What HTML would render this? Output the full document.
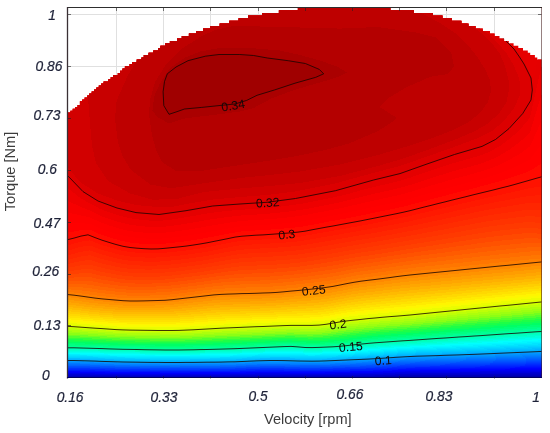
<!DOCTYPE html>
<html><head><meta charset="utf-8"><title>Efficiency map</title>
<style>html,body{margin:0;padding:0;background:#fff}body{width:550px;height:433px;overflow:hidden}svg{display:block}</style>
</head><body>
<svg width="550" height="433" viewBox="0 0 550 433">
<defs><clipPath id="dc"><path d="M60.9,400L60.9,118.1L63.3,118.1L63.3,116.2L65.6,116.2L65.6,114.4L68,114.4L68,112.5L70.4,112.5L70.4,110.7L72.7,110.7L72.7,108.8L75.1,108.8L75.1,107L77.5,107L77.5,105.1L79.9,105.1L79.9,101.3L82.2,101.3L82.2,99.4L84.6,99.4L84.6,97.4L87,97.4L87,95.5L89.3,95.5L89.3,93.5L91.7,93.5L91.7,91.5L94.1,91.5L94.1,89.5L96.4,89.5L96.4,87.5L98.8,87.5L98.8,85.5L101.2,85.5L101.2,83.4L103.6,83.4L103.6,81.4L105.9,81.4L105.9,81.4L108.3,81.4L108.3,79.3L110.7,79.3L110.7,77.2L113,77.2L113,75L115.4,75L115.4,75L117.8,75L117.8,72.9L120.1,72.9L120.1,70.7L122.5,70.7L122.5,68.5L124.9,68.5L124.9,66.3L127.3,66.3L127.3,66.3L129.6,66.3L129.6,64.1L132,64.1L132,61.9L134.4,61.9L134.4,61.9L136.7,61.9L136.7,59.6L139.1,59.6L139.1,59.6L141.5,59.6L141.5,57.4L143.8,57.4L143.8,55.1L146.2,55.1L146.2,55.1L148.6,55.1L148.6,52.7L151,52.7L151,52.7L153.3,52.7L153.3,50.4L155.7,50.4L155.7,50.4L158.1,50.4L158.1,48.1L160.4,48.1L160.4,45.7L162.8,45.7L162.8,45.7L165.2,45.7L165.2,43.3L167.5,43.3L167.5,43.3L169.9,43.3L169.9,40.9L172.3,40.9L172.3,40.9L174.7,40.9L174.7,40.9L177,40.9L177,38.4L179.4,38.4L179.4,38.4L181.8,38.4L181.8,36L184.1,36L184.1,36L186.5,36L186.5,36L188.9,36L188.9,33.5L191.2,33.5L191.2,33.5L193.6,33.5L193.6,33.5L196,33.5L196,31L198.4,31L198.4,31L200.7,31L200.7,31L203.1,31L203.1,28.5L205.5,28.5L205.5,28.5L207.8,28.5L207.8,28.5L210.2,28.5L210.2,25.9L212.6,25.9L212.6,25.9L214.9,25.9L214.9,25.9L217.3,25.9L217.3,25.9L219.7,25.9L219.7,23.4L222.1,23.4L222.1,23.4L224.4,23.4L224.4,23.4L226.8,23.4L226.8,23.4L229.2,23.4L229.2,20.8L231.5,20.8L231.5,20.8L233.9,20.8L233.9,20.8L236.3,20.8L236.3,20.8L238.6,20.8L238.6,18.2L241,18.2L241,18.2L243.4,18.2L243.4,18.2L245.8,18.2L245.8,18.2L248.1,18.2L248.1,15.5L250.5,15.5L250.5,15.5L252.9,15.5L252.9,15.5L255.2,15.5L255.2,15.5L257.6,15.5L257.6,15.5L260,15.5L260,15.5L262.3,15.5L262.3,12.9L264.7,12.9L264.7,12.9L267.1,12.9L267.1,12.9L269.5,12.9L269.5,12.9L271.8,12.9L271.8,12.9L274.2,12.9L274.2,12.9L276.6,12.9L276.6,12.9L278.9,12.9L278.9,10.2L281.3,10.2L281.3,10.2L283.7,10.2L283.7,10.2L286,10.2L286,10.2L288.4,10.2L288.4,10.2L290.8,10.2L290.8,10.2L293.2,10.2L293.2,10.2L295.5,10.2L295.5,10.2L297.9,10.2L297.9,7.5L300.3,7.5L300.3,7.5L302.6,7.5L302.6,7.5L305,7.5L305,7.5L307.4,7.5L307.4,7.5L309.7,7.5L309.7,7.5L312.1,7.5L312.1,7.5L314.5,7.5L314.5,7.5L316.9,7.5L316.9,7.5L319.2,7.5L319.2,7.5L321.6,7.5L321.6,7.5L324,7.5L324,7.5L326.3,7.5L326.3,7.5L328.7,7.5L328.7,4.9L331.1,4.9L331.1,4.9L333.4,4.9L333.4,4.9L335.8,4.9L335.8,4.9L338.2,4.9L338.2,4.9L340.6,4.9L340.6,4.9L342.9,4.9L342.9,4.9L345.3,4.9L345.3,4.9L347.7,4.9L347.7,4.9L350,4.9L350,4.9L352.4,4.9L352.4,4.9L354.8,4.9L354.8,4.9L357.1,4.9L357.1,4.9L359.5,4.9L359.5,4.9L361.9,4.9L361.9,4.9L364.3,4.9L364.3,4.9L366.6,4.9L366.6,4.9L369,4.9L369,4.9L371.4,4.9L371.4,4.9L373.7,4.9L373.7,7.5L376.1,7.5L376.1,7.5L378.5,7.5L378.5,7.5L380.8,7.5L380.8,7.5L383.2,7.5L383.2,7.5L385.6,7.5L385.6,7.5L388,7.5L388,7.5L390.3,7.5L390.3,10.2L392.7,10.2L392.7,10.2L395.1,10.2L395.1,10.2L397.4,10.2L397.4,10.2L399.8,10.2L399.8,10.2L402.2,10.2L402.2,10.2L404.5,10.2L404.5,10.2L406.9,10.2L406.9,10.2L409.3,10.2L409.3,10.2L411.7,10.2L411.7,10.2L414,10.2L414,12.9L416.4,12.9L416.4,12.9L418.8,12.9L418.8,12.9L421.1,12.9L421.1,12.9L423.5,12.9L423.5,12.9L425.9,12.9L425.9,12.9L428.2,12.9L428.2,12.9L430.6,12.9L430.6,12.9L433,12.9L433,15.5L435.4,15.5L435.4,15.5L437.7,15.5L437.7,15.5L440.1,15.5L440.1,15.5L442.5,15.5L442.5,18.2L444.8,18.2L444.8,18.2L447.2,18.2L447.2,18.2L449.6,18.2L449.6,18.2L451.9,18.2L451.9,20.8L454.3,20.8L454.3,20.8L456.7,20.8L456.7,20.8L459.1,20.8L459.1,20.8L461.4,20.8L461.4,23.4L463.8,23.4L463.8,23.4L466.2,23.4L466.2,23.4L468.5,23.4L468.5,25.9L470.9,25.9L470.9,25.9L473.3,25.9L473.3,25.9L475.6,25.9L475.6,28.5L478,28.5L478,28.5L480.4,28.5L480.4,28.5L482.8,28.5L482.8,31L485.1,31L485.1,31L487.5,31L487.5,31L489.9,31L489.9,33.5L492.2,33.5L492.2,33.5L494.6,33.5L494.6,36L497,36L497,36L499.3,36L499.3,38.4L501.7,38.4L501.7,38.4L504.1,38.4L504.1,40.9L506.5,40.9L506.5,40.9L508.8,40.9L508.8,43.3L511.2,43.3L511.2,43.3L513.6,43.3L513.6,45.7L515.9,45.7L515.9,45.7L518.3,45.7L518.3,48.1L520.7,48.1L520.7,48.1L523,48.1L523,50.4L525.4,50.4L525.4,50.4L527.8,50.4L527.8,52.7L530.2,52.7L530.2,55.1L532.5,55.1L532.5,55.1L534.9,55.1L534.9,57.4L537.3,57.4L537.3,59.6L539.6,59.6L539.6,59.6L542,59.6L542,61.9L544.4,61.9L544.4,64.1L546.7,64.1L546.7,64.1L549.1,64.1L549.1,66.3L551.5,66.3L551.5,66.3L553.9,66.3L553.9,400Z"/></clipPath><clipPath id="box"><rect x="67.5" y="7.5" width="474" height="370.5"/></clipPath></defs>
<rect width="550" height="433" fill="#fff"/>
<path d="M116.5,7.5V377.5M163.5,7.5V377.5M210.5,7.5V377.5M258.5,7.5V377.5M305.5,7.5V377.5M352.5,7.5V377.5M399.5,7.5V377.5M446.5,7.5V377.5M494.5,7.5V377.5M67.5,14.5H541.5M67.5,66.5H541.5M67.5,118.5H541.5M67.5,170.5H541.5M67.5,222.5H541.5M67.5,274.5H541.5M67.5,325.5H541.5" stroke="#e0e0e0" stroke-width="1" fill="none"/>
<g clip-path="url(#box)"><g clip-path="url(#dc)" shape-rendering="crispEdges">
<rect x="60" y="0" width="490" height="400" fill="#e60000"/>
<path d="M550,400L60,400L60,168L70,177.7L80,188.8L90,196.6L100,201.9L110,205.8L120,208.9L130,211.5L140,213.1L150,214.1L160,214.5L170,213.5L180,211.7L190,210L200,208L210,206.3L220,205.3L230,204.6L240,204L250,203.4L260,202.8L270,202L280,200.8L290,199.4L300,197.8L310,196L320,194.1L330,191.9L340,189.6L350,186.8L360,183.9L370,181L380,178.4L390,176.2L400,173.6L410,170.3L420,166.6L430,162.9L440,159.4L450,156L460,152.9L470,150.2L480,147.1L490,142.7L500,136.4L510,127.7L520,117L530,102.5L540,45.5L550,0Z" fill="#e50000"/>
<path d="M550,400L60,400L60,182.7L70,189.9L80,197.9L90,203.6L100,208.8L110,212.6L120,215.7L130,218.2L140,219.6L150,220.6L160,220.8L170,219.9L180,218.2L190,216.6L200,214.7L210,213L220,211.7L230,210.7L240,209.8L250,209.2L260,208.6L270,207.8L280,206.7L290,205.4L300,204L310,202.2L320,200.2L330,198.2L340,195.9L350,193.4L360,190.6L370,187.9L380,185.5L390,183.3L400,180.8L410,177.7L420,174.2L430,170.8L440,167.4L450,164.2L460,161.2L470,158.5L480,155.6L490,151.5L500,146L510,138.6L520,129.6L530,117.6L540,72.4L550,36.3Z" fill="#ee0000"/>
<path d="M550,400L60,400L60,197.3L70,201.8L80,206.7L90,210.6L100,215.6L110,219.3L120,222.3L130,224.7L140,226.1L150,226.9L160,227L170,226.1L180,224.6L190,223.1L200,221.3L210,219.5L220,218L230,216.7L240,215.6L250,214.9L260,214.3L270,213.5L280,212.5L290,211.4L300,210L310,208.3L320,206.3L330,204.3L340,202.2L350,199.8L360,197.3L370,194.8L380,192.4L390,190.3L400,187.9L410,185L420,181.7L430,178.5L440,175.3L450,172.2L460,169.3L470,166.7L480,163.8L490,160.2L500,155.4L510,149.3L520,141.9L530,132.4L540,99L550,72.3Z" fill="#f70000"/>
<path d="M550,400L60,400L60,211L70,213.1L80,215.2L90,217.3L100,222.2L110,225.7L120,228.8L130,231.1L140,232.3L150,233L160,233L170,232.1L180,230.8L190,229.3L200,227.6L210,225.8L220,224.1L230,222.5L240,221.1L250,220.4L260,219.8L270,219.1L280,218.2L290,217.2L300,215.9L310,214.2L320,212.2L330,210.3L340,208.3L350,206.1L360,203.7L370,201.4L380,199.2L390,197L400,194.8L410,192L420,188.9L430,185.9L440,183L450,180L460,177.2L470,174.6L480,171.8L490,168.5L500,164.5L510,159.5L520,153.7L530,146.4L540,124L550,106.1Z" fill="#fd0000"/>
<path d="M550,400L60,400L60,223.3L70,223.4L80,223.2L90,223.8L100,228.4L110,231.8L120,234.9L130,237L140,238.1L150,238.8L160,238.7L170,237.8L180,236.6L190,235.2L200,233.6L210,231.7L220,229.9L230,228.1L240,226.5L250,225.7L260,225.2L270,224.5L280,223.7L290,222.7L300,221.6L310,219.8L320,217.9L330,216L340,214.1L350,212L360,209.9L370,207.7L380,205.6L390,203.5L400,201.3L410,198.7L420,195.8L430,193L440,190.2L450,187.4L460,184.7L470,182.1L480,179.5L490,176.5L500,173.1L510,169.2L520,164.7L530,159.4L540,146.2L550,135.7Z" fill="#ff0000"/>
<path d="M550,400L60,400L60,233.5L70,232.2L80,230.3L90,229.8L100,234.3L110,237.5L120,240.5L130,242.5L140,243.6L150,244.2L160,244L170,243.1L180,242L190,240.7L200,239.1L210,237.2L220,235.3L230,233.3L240,231.6L250,230.8L260,230.2L270,229.6L280,228.8L290,228L300,227L310,225.2L320,223.3L330,221.4L340,219.6L350,217.7L360,215.7L370,213.6L380,211.6L390,209.5L400,207.4L410,204.9L420,202.3L430,199.6L440,197L450,194.3L460,191.7L470,189.2L480,186.6L490,183.9L500,181.1L510,178L520,174.6L530,170.8L540,164.4L550,159.1Z" fill="#ff0a00"/>
<path d="M550,400L60,400L60,241L70,239.1L80,236.4L90,235.2L100,239.6L110,242.7L120,245.6L130,247.5L140,248.4L150,249L160,248.7L170,247.8L180,246.8L190,245.5L200,244L210,242.2L220,240.2L230,238.2L240,236.4L250,235.6L260,235L270,234.4L280,233.7L290,232.9L300,231.9L310,230.2L320,228.3L330,226.5L340,224.7L350,222.9L360,220.9L370,219L380,217L390,215L400,213L410,210.7L420,208.2L430,205.7L440,203.1L450,200.6L460,198.1L470,195.7L480,193.2L490,190.7L500,188.3L510,185.7L520,183L530,180.1L540,177.3L550,174.5Z" fill="#ff1200"/>
<path d="M550,400L60,400L60,246.7L70,244.7L80,241.8L90,240.4L100,244.5L110,247.5L120,250.3L130,252.1L140,252.9L150,253.4L160,253.1L170,252.2L180,251.2L190,250L200,248.5L210,246.7L220,244.7L230,242.7L240,240.9L250,240.1L260,239.6L270,239L280,238.3L290,237.6L300,236.6L310,234.9L320,233L330,231.3L340,229.5L350,227.7L360,225.9L370,224.1L380,222.1L390,220.2L400,218.2L410,216L420,213.6L430,211.3L440,208.9L450,206.5L460,204.1L470,201.7L480,199.4L490,197.1L500,194.9L510,192.7L520,190.4L530,188.1L540,186.7L550,184.7Z" fill="#ff1900"/>
<path d="M550,400L60,400L60,251.9L70,250L80,247L90,245.5L100,249.3L110,252.1L120,254.8L130,256.5L140,257.3L150,257.7L160,257.4L170,256.5L180,255.5L190,254.3L200,252.8L210,251.1L220,249.1L230,247.1L240,245.4L250,244.6L260,244.1L270,243.5L280,242.9L290,242.2L300,241.2L310,239.6L320,237.7L330,236L340,234.3L350,232.5L360,230.7L370,228.9L380,227.1L390,225.2L400,223.3L410,221.2L420,218.9L430,216.7L440,214.5L450,212.2L460,209.9L470,207.6L480,205.4L490,203.3L500,201.4L510,199.5L520,197.5L530,195.7L540,195.3L550,193.9Z" fill="#ff1f00"/>
<path d="M550,400L60,400L60,256.6L70,254.8L80,252L90,250.4L100,254L110,256.7L120,259.2L130,260.8L140,261.4L150,261.8L160,261.5L170,260.6L180,259.6L190,258.4L200,257L210,255.3L220,253.3L230,251.5L240,249.8L250,249.1L260,248.5L270,248L280,247.4L290,246.6L300,245.7L310,244.1L320,242.3L330,240.6L340,238.9L350,237.1L360,235.4L370,233.7L380,231.9L390,230L400,228.2L410,226.2L420,224.1L430,222L440,219.9L450,217.7L460,215.6L470,213.4L480,211.3L490,209.3L500,207.6L510,206L520,204.3L530,202.8L540,203.2L550,202.2Z" fill="#ff2600"/>
<path d="M550,400L60,400L60,261L70,259.3L80,256.7L90,255.2L100,258.6L110,261.1L120,263.4L130,264.9L140,265.5L150,265.8L160,265.4L170,264.6L180,263.6L190,262.4L200,261L210,259.3L220,257.5L230,255.7L240,254.1L250,253.4L260,252.9L270,252.4L280,251.8L290,251L300,250.1L310,248.5L320,246.8L330,245.2L340,243.4L350,241.6L360,239.9L370,238.3L380,236.6L390,234.8L400,232.9L410,231L420,229.1L430,227.1L440,225.1L450,223.1L460,221.1L470,219L480,217L490,215.2L500,213.6L510,212.2L520,210.8L530,209.5L540,210.5L550,209.7Z" fill="#ff2c00"/>
<path d="M550,400L60,400L60,265L70,263.5L80,261.2L90,259.9L100,263.1L110,265.3L120,267.5L130,268.9L140,269.4L150,269.6L160,269.2L170,268.4L180,267.4L190,266.2L200,264.8L210,263.2L220,261.4L230,259.7L240,258.3L250,257.6L260,257.2L270,256.7L280,256L290,255.3L300,254.3L310,252.8L320,251.1L330,249.6L340,247.8L350,246L360,244.3L370,242.7L380,241.1L390,239.3L400,237.5L410,235.7L420,233.9L430,232L440,230.2L450,228.3L460,226.4L470,224.5L480,222.6L490,220.9L500,219.5L510,218.2L520,217L530,215.9L540,217.1L550,216.6Z" fill="#ff3300"/>
<path d="M550,400L60,400L60,268.7L70,267.4L80,265.5L90,264.5L100,267.4L110,269.5L120,271.5L130,272.7L140,273.2L150,273.3L160,272.9L170,272.1L180,271.1L190,269.8L200,268.5L210,266.9L220,265.3L230,263.7L240,262.4L250,261.8L260,261.3L270,260.9L280,260.2L290,259.5L300,258.5L310,257L320,255.4L330,253.9L340,252.1L350,250.3L360,248.6L370,247.1L380,245.4L390,243.7L400,242L410,240.3L420,238.5L430,236.8L440,235.1L450,233.3L460,231.6L470,229.8L480,228L490,226.4L500,225.1L510,224L520,222.8L530,221.9L540,223.1L550,222.7Z" fill="#ff3900"/>
<path d="M550,400L60,400L60,272.1L70,271.1L80,269.6L90,268.8L100,271.5L110,273.4L120,275.3L130,276.4L140,276.8L150,276.8L160,276.5L170,275.7L180,274.6L190,273.4L200,272.1L210,270.5L220,269L230,267.6L240,266.4L250,265.8L260,265.4L270,264.9L280,264.3L290,263.5L300,262.5L310,261.1L320,259.5L330,258L340,256.3L350,254.4L360,252.7L370,251.2L380,249.7L390,248L400,246.3L410,244.7L420,243.1L430,241.5L440,239.8L450,238.2L460,236.6L470,234.9L480,233.2L490,231.8L500,230.5L510,229.5L520,228.4L530,227.6L540,228.7L550,228.3Z" fill="#ff4000"/>
<path d="M550,400L60,400L60,275.2L70,274.5L80,273.4L90,273.1L100,275.5L110,277.3L120,279L130,280L140,280.3L150,280.3L160,279.9L170,279.1L180,278L190,276.8L200,275.5L210,274L220,272.6L230,271.3L240,270.3L250,269.8L260,269.4L270,268.9L280,268.3L290,267.4L300,266.5L310,265.1L320,263.6L330,262.1L340,260.3L350,258.4L360,256.7L370,255.3L380,253.8L390,252.1L400,250.5L410,248.9L420,247.4L430,245.9L440,244.4L450,242.9L460,241.4L470,239.8L480,238.3L490,236.9L500,235.8L510,234.7L520,233.7L530,232.9L540,233.8L550,233.4Z" fill="#ff4900"/>
<path d="M550,400L60,400L60,278.2L70,277.8L80,277.1L90,277.1L100,279.3L110,280.9L120,282.5L130,283.4L140,283.6L150,283.6L160,283.2L170,282.4L180,281.3L190,280.1L200,278.8L210,277.4L220,276L230,274.9L240,274L250,273.6L260,273.2L270,272.8L280,272.1L290,271.3L300,270.2L310,268.9L320,267.5L330,266L340,264.3L350,262.3L360,260.6L370,259.2L380,257.7L390,256.1L400,254.6L410,253L420,251.6L430,250.3L440,248.9L450,247.4L460,246L470,244.6L480,243.1L490,241.9L500,240.7L510,239.8L520,238.8L530,238L540,238.6L550,238.1Z" fill="#ff5200"/>
<path d="M550,400L60,400L60,281L70,280.9L80,280.7L90,281L100,283L110,284.5L120,285.8L130,286.7L140,286.8L150,286.7L160,286.4L170,285.6L180,284.5L190,283.2L200,282L210,280.6L220,279.4L230,278.4L240,277.7L250,277.2L260,276.9L270,276.5L280,275.8L290,274.9L300,273.9L310,272.6L320,271.2L330,269.8L340,268.1L350,266.1L360,264.4L370,263L380,261.5L390,260L400,258.5L410,257L420,255.7L430,254.4L440,253.1L450,251.8L460,250.5L470,249.1L480,247.8L490,246.6L500,245.5L510,244.5L520,243.6L530,242.7L540,243L550,242.4Z" fill="#ff5b00"/>
<path d="M550,400L60,400L60,283.6L70,283.8L80,284L90,284.7L100,286.5L110,287.8L120,289.1L130,289.8L140,289.9L150,289.8L160,289.4L170,288.7L180,287.6L190,286.3L200,285.1L210,283.7L220,282.6L230,281.8L240,281.2L250,280.8L260,280.5L270,280L280,279.4L290,278.5L300,277.5L310,276.2L320,274.9L330,273.5L340,271.7L350,269.7L360,268L370,266.6L380,265.2L390,263.8L400,262.3L410,260.9L420,259.6L430,258.4L440,257.2L450,256L460,254.8L470,253.5L480,252.3L490,251.1L500,250.1L510,249.1L520,248.1L530,247.2L540,247.1L550,246.4Z" fill="#ff6400"/>
<path d="M550,400L60,400L60,286.2L70,286.6L80,287.2L90,288.2L100,289.8L110,291L120,292.1L130,292.8L140,292.9L150,292.7L160,292.4L170,291.7L180,290.5L190,289.3L200,288.1L210,286.8L220,285.7L230,285L240,284.5L250,284.2L260,283.9L270,283.5L280,282.8L290,281.9L300,280.9L310,279.7L320,278.4L330,277.1L340,275.3L350,273.2L360,271.5L370,270.2L380,268.8L390,267.4L400,265.9L410,264.6L420,263.4L430,262.3L440,261.2L450,260L460,258.8L470,257.7L480,256.5L490,255.5L500,254.4L510,253.4L520,252.4L530,251.5L540,251L550,250.2Z" fill="#ff6d00"/>
<path d="M550,400L60,400L60,288.8L70,289.4L80,290.3L90,291.5L100,293L110,294L120,295L130,295.7L140,295.7L150,295.5L160,295.2L170,294.5L180,293.4L190,292.1L200,290.9L210,289.7L220,288.8L230,288.2L240,287.7L250,287.4L260,287.1L270,286.7L280,286.1L290,285.1L300,284.1L310,283L320,281.8L330,280.5L340,278.7L350,276.6L360,274.9L370,273.6L380,272.3L390,270.9L400,269.5L410,268.2L420,267.1L430,266L440,264.9L450,263.8L460,262.8L470,261.7L480,260.6L490,259.5L500,258.5L510,257.5L520,256.5L530,255.6L540,254.8L550,253.9Z" fill="#ff7600"/>
<path d="M550,400L60,400L60,291.4L70,292.1L80,293.2L90,294.6L100,295.9L110,296.9L120,297.8L130,298.4L140,298.4L150,298.2L160,297.9L170,297.3L180,296.1L190,294.9L200,293.8L210,292.6L220,291.7L230,291.2L240,290.8L250,290.5L260,290.2L270,289.8L280,289.2L290,288.2L300,287.3L310,286.2L320,285.1L330,283.7L340,281.9L350,279.9L360,278.2L370,276.9L380,275.6L390,274.3L400,272.9L410,271.7L420,270.6L430,269.6L440,268.5L450,267.5L460,266.5L470,265.4L480,264.4L490,263.4L500,262.4L510,261.4L520,260.4L530,259.4L540,258.5L550,257.5Z" fill="#ff7f00"/>
<path d="M550,400L60,400L60,294L70,294.8L80,296L90,297.4L100,298.7L110,299.6L120,300.5L130,301L140,301L150,300.8L160,300.5L170,299.9L180,298.8L190,297.6L200,296.5L210,295.3L220,294.5L230,294L240,293.7L250,293.4L260,293.1L270,292.8L280,292.1L290,291.2L300,290.3L310,289.3L320,288.2L330,286.9L340,285L350,283L360,281.4L370,280.1L380,278.9L390,277.5L400,276.2L410,275L420,274L430,273L440,272L450,271L460,270L470,269L480,268L490,267L500,266L510,265.1L520,264.1L530,263.1L540,262.1L550,261.1Z" fill="#ff8900"/>
<path d="M550,400L60,400L60,296.6L70,297.4L80,298.7L90,300.1L100,301.2L110,302.1L120,303L130,303.4L140,303.4L150,303.2L160,303L170,302.4L180,301.4L190,300.2L200,299.2L210,298L220,297.2L230,296.8L240,296.5L250,296.2L260,295.9L270,295.5L280,294.9L290,294L300,293.1L310,292.2L320,291.2L330,289.9L340,288.1L350,286.1L360,284.4L370,283.2L380,282L390,280.7L400,279.4L410,278.2L420,277.3L430,276.3L440,275.3L450,274.3L460,273.4L470,272.4L480,271.4L490,270.4L500,269.5L510,268.5L520,267.6L530,266.6L540,265.6L550,264.6Z" fill="#ff9300"/>
<path d="M550,400L60,400L60,299.2L70,300L80,301.2L90,302.6L100,303.7L110,304.6L120,305.4L130,305.8L140,305.8L150,305.6L160,305.4L170,304.9L180,303.9L190,302.8L200,301.8L210,300.7L220,299.9L230,299.5L240,299.2L250,298.9L260,298.6L270,298.2L280,297.7L290,296.8L300,296L310,295.1L320,294.1L330,292.8L340,291L350,289L360,287.4L370,286.2L380,285L390,283.8L400,282.5L410,281.4L420,280.4L430,279.5L440,278.5L450,277.6L460,276.6L470,275.6L480,274.7L490,273.7L500,272.8L510,271.8L520,270.9L530,269.9L540,269L550,268Z" fill="#ff9d00"/>
<path d="M550,400L60,400L60,301.6L70,302.4L80,303.7L90,305L100,306.1L110,306.9L120,307.7L130,308.1L140,308.1L150,307.9L160,307.7L170,307.2L180,306.3L190,305.3L200,304.3L210,303.3L220,302.5L230,302.1L240,301.8L250,301.5L260,301.2L270,300.8L280,300.3L290,299.4L300,298.7L310,297.9L320,297L330,295.6L340,293.8L350,291.9L360,290.3L370,289.2L380,288L390,286.8L400,285.6L410,284.5L420,283.5L430,282.6L440,281.6L450,280.7L460,279.7L470,278.7L480,277.8L490,276.8L500,275.9L510,275L520,274L530,273.1L540,272.1L550,271.2Z" fill="#ffa600"/>
<path d="M550,400L60,400L60,304L70,304.8L80,306L90,307.3L100,308.3L110,309.1L120,309.9L130,310.3L140,310.3L150,310.1L160,309.9L170,309.5L180,308.7L190,307.7L200,306.8L210,305.8L220,305L230,304.6L240,304.3L250,304.1L260,303.7L270,303.4L280,302.8L290,302L300,301.3L310,300.6L320,299.7L330,298.4L340,296.5L350,294.7L360,293.2L370,292L380,290.9L390,289.7L400,288.5L410,287.5L420,286.5L430,285.6L440,284.6L450,283.7L460,282.7L470,281.7L480,280.8L490,279.8L500,278.9L510,278L520,277L530,276.1L540,275.1L550,274.2Z" fill="#ffb000"/>
<path d="M550,400L60,400L60,306.3L70,307.1L80,308.3L90,309.5L100,310.5L110,311.3L120,312L130,312.4L140,312.4L150,312.3L160,312.1L170,311.8L180,311L190,310.1L200,309.2L210,308.2L220,307.5L230,307.1L240,306.8L250,306.5L260,306.2L270,305.8L280,305.3L290,304.5L300,303.9L310,303.3L320,302.4L330,301.1L340,299.2L350,297.4L360,295.9L370,294.8L380,293.7L390,292.5L400,291.4L410,290.4L420,289.4L430,288.5L440,287.5L450,286.6L460,285.6L470,284.6L480,283.7L490,282.7L500,281.8L510,280.8L520,279.9L530,279L540,278L550,277Z" fill="#ffba00"/>
<path d="M550,400L60,400L60,308.5L70,309.3L80,310.4L90,311.6L100,312.6L110,313.4L120,314.1L130,314.4L140,314.5L150,314.4L160,314.2L170,313.9L180,313.2L190,312.4L200,311.5L210,310.6L220,309.9L230,309.5L240,309.2L250,308.9L260,308.5L270,308.2L280,307.6L290,306.9L300,306.4L310,305.8L320,305.1L330,303.7L340,301.8L350,300L360,298.6L370,297.5L380,296.4L390,295.3L400,294.2L410,293.2L420,292.2L430,291.3L440,290.3L450,289.4L460,288.4L470,287.4L480,286.5L490,285.5L500,284.5L510,283.6L520,282.7L530,281.7L540,280.7L550,279.8Z" fill="#ffc400"/>
<path d="M550,400L60,400L60,310.7L70,311.4L80,312.5L90,313.7L100,314.6L110,315.3L120,316L130,316.4L140,316.4L150,316.4L160,316.3L170,316L180,315.4L190,314.6L200,313.8L210,312.9L220,312.2L230,311.8L240,311.5L250,311.2L260,310.8L270,310.5L280,309.9L290,309.3L300,308.8L310,308.3L320,307.6L330,306.2L340,304.3L350,302.6L360,301.2L370,300.1L380,299L390,298L400,296.9L410,295.9L420,295L430,294L440,293L450,292.1L460,291.1L470,290.1L480,289.1L490,288.2L500,287.2L510,286.2L520,285.3L530,284.3L540,283.4L550,282.4Z" fill="#ffce00"/>
<path d="M550,400L60,400L60,312.8L70,313.5L80,314.5L90,315.6L100,316.5L110,317.3L120,318L130,318.3L140,318.3L150,318.3L160,318.2L170,318L180,317.5L190,316.8L200,316L210,315.1L220,314.5L230,314L240,313.7L250,313.4L260,313L270,312.7L280,312.2L290,311.6L300,311.1L310,310.7L320,310.1L330,308.6L340,306.7L350,305.1L360,303.8L370,302.7L380,301.6L390,300.6L400,299.6L410,298.6L420,297.6L430,296.6L440,295.7L450,294.7L460,293.7L470,292.7L480,291.7L490,290.7L500,289.8L510,288.8L520,287.8L530,286.9L540,285.9L550,284.9Z" fill="#ffd800"/>
<path d="M550,400L60,400L60,314.8L70,315.5L80,316.5L90,317.5L100,318.3L110,319.1L120,319.8L130,320.1L140,320.2L150,320.2L160,320.2L170,320L180,319.5L190,318.8L200,318.1L210,317.3L220,316.6L230,316.2L240,315.9L250,315.5L260,315.2L270,314.8L280,314.3L290,313.8L300,313.4L310,313L320,312.4L330,311L340,309.1L350,307.5L360,306.2L370,305.1L380,304.1L390,303.1L400,302.1L410,301.2L420,300.2L430,299.2L440,298.2L450,297.2L460,296.2L470,295.2L480,294.2L490,293.2L500,292.3L510,291.3L520,290.3L530,289.3L540,288.4L550,287.4Z" fill="#ffe100"/>
<path d="M550,400L60,400L60,316.8L70,317.5L80,318.4L90,319.3L100,320.1L110,320.9L120,321.6L130,321.9L140,322L150,322L160,322L170,321.9L180,321.5L190,320.9L200,320.1L210,319.4L220,318.7L230,318.3L240,317.9L250,317.6L260,317.2L270,316.9L280,316.4L290,315.9L300,315.6L310,315.3L320,314.7L330,313.3L340,311.4L350,309.8L360,308.6L370,307.5L380,306.5L390,305.5L400,304.6L410,303.7L420,302.7L430,301.7L440,300.7L450,299.7L460,298.7L470,297.6L480,296.7L490,295.7L500,294.7L510,293.7L520,292.7L530,291.7L540,290.7L550,289.7Z" fill="#ffeb00"/>
<path d="M550,400L60,400L60,318.7L70,319.4L80,320.2L90,321.1L100,321.9L110,322.7L120,323.3L130,323.6L140,323.7L150,323.8L160,323.8L170,323.7L180,323.4L190,322.8L200,322.1L210,321.4L220,320.8L230,320.3L240,320L250,319.6L260,319.2L270,318.8L280,318.4L290,317.9L300,317.7L310,317.5L320,317L330,315.5L340,313.6L350,312.1L360,310.9L370,309.9L380,308.9L390,307.9L400,307L410,306.1L420,305.1L430,304.1L440,303.1L450,302.1L460,301L470,300L480,299L490,298L500,297L510,296L520,295L530,294.1L540,293.1L550,292Z" fill="#fff500"/>
<path d="M550,400L60,400L60,320.6L70,321.2L80,322L90,322.8L100,323.6L110,324.3L120,325L130,325.3L140,325.4L150,325.5L160,325.5L170,325.5L180,325.2L190,324.7L200,324.1L210,323.4L220,322.8L230,322.3L240,321.9L250,321.5L260,321.2L270,320.8L280,320.3L290,319.9L300,319.7L310,319.6L320,319.1L330,317.6L340,315.8L350,314.3L360,313.2L370,312.1L380,311.1L390,310.2L400,309.3L410,308.4L420,307.4L430,306.4L440,305.4L450,304.4L460,303.4L470,302.3L480,301.3L490,300.3L500,299.3L510,298.3L520,297.3L530,296.3L540,295.3L550,294.3Z" fill="#f8fb00"/>
<path d="M550,400L60,400L60,322.5L70,323L80,323.7L90,324.5L100,325.3L110,326L120,326.7L130,326.9L140,327.1L150,327.2L160,327.2L170,327.2L180,327L190,326.5L200,325.9L210,325.2L220,324.7L230,324.2L240,323.8L250,323.4L260,323L270,322.6L280,322.2L290,321.8L300,321.7L310,321.6L320,321.2L330,319.7L340,317.9L350,316.4L360,315.3L370,314.3L380,313.3L390,312.4L400,311.6L410,310.7L420,309.7L430,308.7L440,307.7L450,306.6L460,305.6L470,304.6L480,303.6L490,302.6L500,301.6L510,300.6L520,299.6L530,298.6L540,297.6L550,296.6Z" fill="#ebfc00"/>
<path d="M550,400L60,400L60,324.3L70,324.7L80,325.4L90,326.2L100,326.9L110,327.6L120,328.3L130,328.5L140,328.7L150,328.8L160,328.9L170,328.9L180,328.7L190,328.3L200,327.7L210,327.1L220,326.5L230,326L240,325.6L250,325.2L260,324.8L270,324.5L280,324L290,323.6L300,323.6L310,323.5L320,323.1L330,321.7L340,319.9L350,318.5L360,317.4L370,316.4L380,315.5L390,314.6L400,313.8L410,312.9L420,311.9L430,310.9L440,309.9L450,308.8L460,307.8L470,306.8L480,305.8L490,304.8L500,303.8L510,302.8L520,301.8L530,300.8L540,299.8L550,298.8Z" fill="#defe00"/>
<path d="M550,400L60,400L60,326L70,326.5L80,327.1L90,327.8L100,328.5L110,329.2L120,329.8L130,330.1L140,330.3L150,330.4L160,330.5L170,330.5L180,330.3L190,329.9L200,329.4L210,328.8L220,328.2L230,327.8L240,327.4L250,327L260,326.6L270,326.2L280,325.8L290,325.4L300,325.4L310,325.4L320,325L330,323.7L340,321.9L350,320.5L360,319.5L370,318.5L380,317.5L390,316.6L400,315.8L410,315L420,314L430,313L440,312L450,311L460,310L470,309L480,308L490,307L500,306L510,305.1L520,304.1L530,303.1L540,302.1L550,301.1Z" fill="#cfff02"/>
<path d="M550,400L60,400L60,327.7L70,328.1L80,328.7L90,329.4L100,330.1L110,330.8L120,331.4L130,331.6L140,331.8L150,331.9L160,332L170,332.1L180,331.9L190,331.6L200,331L210,330.5L220,329.9L230,329.5L240,329.1L250,328.7L260,328.3L270,327.9L280,327.5L290,327.1L300,327.2L310,327.2L320,326.9L330,325.5L340,323.9L350,322.5L360,321.4L370,320.4L380,319.5L390,318.7L400,317.9L410,317L420,316.1L430,315.1L440,314.1L450,313.1L460,312.1L470,311.1L480,310.2L490,309.2L500,308.2L510,307.3L520,306.3L530,305.3L540,304.3L550,303.4Z" fill="#beff07"/>
<path d="M550,400L60,400L60,329.4L70,329.8L80,330.4L90,331L100,331.6L110,332.3L120,332.9L130,333.1L140,333.3L150,333.4L160,333.5L170,333.6L180,333.5L190,333.1L200,332.6L210,332.1L220,331.6L230,331.2L240,330.8L250,330.4L260,330L270,329.6L280,329.1L290,328.8L300,328.9L310,329L320,328.7L330,327.4L340,325.8L350,324.4L360,323.4L370,322.4L380,321.5L390,320.6L400,319.9L410,319L420,318.1L430,317.1L440,316.1L450,315.2L460,314.2L470,313.2L480,312.3L490,311.3L500,310.4L510,309.4L520,308.5L530,307.5L540,306.6L550,305.6Z" fill="#adff0b"/>
<path d="M550,400L60,400L60,331.1L70,331.4L80,332L90,332.6L100,333.2L110,333.8L120,334.3L130,334.6L140,334.8L150,334.9L160,335L170,335.1L180,335L190,334.7L200,334.2L210,333.7L220,333.2L230,332.8L240,332.4L250,332L260,331.6L270,331.2L280,330.7L290,330.4L300,330.5L310,330.7L320,330.4L330,329.2L340,327.6L350,326.3L360,325.3L370,324.3L380,323.4L390,322.5L400,321.8L410,321L420,320.1L430,319.1L440,318.1L450,317.2L460,316.2L470,315.3L480,314.4L490,313.4L500,312.5L510,311.6L520,310.6L530,309.7L540,308.7L550,307.8Z" fill="#9dff10"/>
<path d="M550,400L60,400L60,332.7L70,333L80,333.5L90,334.1L100,334.6L110,335.2L120,335.8L130,336L140,336.2L150,336.4L160,336.5L170,336.5L180,336.5L190,336.2L200,335.7L210,335.2L220,334.8L230,334.4L240,334L250,333.6L260,333.1L270,332.7L280,332.3L290,331.9L300,332.2L310,332.4L320,332.1L330,330.9L340,329.5L350,328.2L360,327.1L370,326.1L380,325.2L390,324.4L400,323.7L410,322.9L420,322L430,321L440,320.1L450,319.2L460,318.2L470,317.3L480,316.4L490,315.5L500,314.6L510,313.6L520,312.7L530,311.8L540,310.9L550,310Z" fill="#8cff14"/>
<path d="M550,400L60,400L60,334.3L70,334.6L80,335L90,335.6L100,336.1L110,336.7L120,337.2L130,337.4L140,337.6L150,337.8L160,337.9L170,338L180,337.9L190,337.6L200,337.2L210,336.7L220,336.3L230,335.9L240,335.5L250,335.1L260,334.7L270,334.3L280,333.8L290,333.4L300,333.7L310,334L320,333.7L330,332.6L340,331.3L350,330L360,328.9L370,327.9L380,327L390,326.2L400,325.5L410,324.7L420,323.8L430,322.9L440,322L450,321.1L460,320.2L470,319.3L480,318.4L490,317.5L500,316.6L510,315.7L520,314.8L530,313.9L540,313L550,312.1Z" fill="#6fff20"/>
<path d="M550,400L60,400L60,335.9L70,336.1L80,336.5L90,337L100,337.5L110,338.1L120,338.5L130,338.8L140,339L150,339.1L160,339.3L170,339.3L180,339.3L190,339L200,338.6L210,338.2L220,337.8L230,337.4L240,337L250,336.6L260,336.2L270,335.7L280,335.3L290,334.9L300,335.3L310,335.6L320,335.3L330,334.3L340,333L350,331.8L360,330.7L370,329.7L380,328.8L390,328L400,327.3L410,326.5L420,325.6L430,324.7L440,323.8L450,322.9L460,322.1L470,321.2L480,320.3L490,319.4L500,318.6L510,317.7L520,316.8L530,315.9L540,315.1L550,314.2Z" fill="#52ff2d"/>
<path d="M550,400L60,400L60,337.4L70,337.6L80,338L90,338.4L100,338.9L110,339.4L120,339.9L130,340.1L140,340.3L150,340.5L160,340.6L170,340.7L180,340.6L190,340.4L200,340L210,339.6L220,339.2L230,338.8L240,338.5L250,338L260,337.6L270,337.2L280,336.7L290,336.3L300,336.7L310,337.1L320,336.8L330,335.9L340,334.7L350,333.5L360,332.4L370,331.4L380,330.5L390,329.7L400,329L410,328.3L420,327.4L430,326.5L440,325.6L450,324.8L460,323.9L470,323.1L480,322.2L490,321.4L500,320.5L510,319.7L520,318.8L530,318L540,317.1L550,316.2Z" fill="#34ff3a"/>
<path d="M550,400L60,400L60,338.9L70,339L80,339.4L90,339.8L100,340.2L110,340.7L120,341.1L130,341.4L140,341.6L150,341.8L160,341.9L170,342L180,341.9L190,341.7L200,341.4L210,341L220,340.6L230,340.3L240,339.9L250,339.5L260,339L270,338.6L280,338.1L290,337.7L300,338.2L310,338.6L320,338.3L330,337.5L340,336.4L350,335.2L360,334L370,333L380,332.2L390,331.4L400,330.7L410,330L420,329.1L430,328.3L440,327.4L450,326.6L460,325.7L470,324.9L480,324.1L490,323.2L500,322.4L510,321.6L520,320.7L530,319.9L540,319.1L550,318.3Z" fill="#1dff47"/>
<path d="M550,400L60,400L60,340.3L70,340.4L80,340.7L90,341.1L100,341.6L110,342L120,342.4L130,342.6L140,342.8L150,343L160,343.2L170,343.2L180,343.2L190,343L200,342.7L210,342.3L220,341.9L230,341.6L240,341.2L250,340.8L260,340.4L270,339.9L280,339.4L290,339.1L300,339.6L310,340L320,339.7L330,339L340,338L350,336.8L360,335.6L370,334.7L380,333.8L390,333L400,332.3L410,331.6L420,330.8L430,329.9L440,329.1L450,328.3L460,327.5L470,326.7L480,325.9L490,325.1L500,324.3L510,323.4L520,322.6L530,321.8L540,321L550,320.2Z" fill="#0fff55"/>
<path d="M550,400L60,400L60,341.7L70,341.8L80,342.1L90,342.4L100,342.8L110,343.2L120,343.6L130,343.8L140,344.1L150,344.2L160,344.4L170,344.5L180,344.4L190,344.2L200,343.9L210,343.6L220,343.3L230,342.9L240,342.6L250,342.1L260,341.7L270,341.3L280,340.8L290,340.4L300,340.9L310,341.4L320,341.1L330,340.4L340,339.5L350,338.4L360,337.2L370,336.2L380,335.3L390,334.6L400,333.9L410,333.2L420,332.4L430,331.6L440,330.8L450,330L460,329.2L470,328.4L480,327.6L490,326.8L500,326.1L510,325.3L520,324.5L530,323.7L540,322.9L550,322.1Z" fill="#00ff64"/>
<path d="M550,400L60,400L60,343L70,343.1L80,343.3L90,343.7L100,344L110,344.5L120,344.8L130,345L140,345.2L150,345.4L160,345.6L170,345.6L180,345.6L190,345.4L200,345.1L210,344.8L220,344.5L230,344.2L240,343.8L250,343.4L260,343L270,342.5L280,342L290,341.6L300,342.2L310,342.7L320,342.5L330,341.8L340,341L350,339.9L360,338.7L370,337.7L380,336.9L390,336.1L400,335.4L410,334.7L420,334L430,333.2L440,332.4L450,331.6L460,330.8L470,330.1L480,329.3L490,328.6L500,327.8L510,327L520,326.3L530,325.5L540,324.8L550,324Z" fill="#00ff74"/>
<path d="M550,400L60,400L60,344.3L70,344.4L80,344.6L90,344.9L100,345.2L110,345.6L120,346L130,346.2L140,346.4L150,346.6L160,346.7L170,346.8L180,346.7L190,346.6L200,346.3L210,346L220,345.7L230,345.4L240,345.1L250,344.7L260,344.2L270,343.8L280,343.3L290,342.9L300,343.5L310,344L320,343.8L330,343.2L340,342.5L350,341.3L360,340.1L370,339.2L380,338.3L390,337.6L400,336.9L410,336.2L420,335.5L430,334.7L440,333.9L450,333.2L460,332.5L470,331.7L480,331L490,330.3L500,329.5L510,328.8L520,328L530,327.3L540,326.5L550,325.8Z" fill="#00ff83"/>
<path d="M550,400L60,400L60,345.5L70,345.6L80,345.7L90,346L100,346.4L110,346.8L120,347.1L130,347.3L140,347.5L150,347.7L160,347.8L170,347.9L180,347.8L190,347.7L200,347.5L210,347.2L220,346.9L230,346.6L240,346.3L250,345.8L260,345.4L270,345L280,344.5L290,344.1L300,344.7L310,345.3L320,345L330,344.5L340,343.8L350,342.7L360,341.5L370,340.6L380,339.8L390,339L400,338.3L410,337.7L420,336.9L430,336.2L440,335.4L450,334.7L460,334L470,333.3L480,332.6L490,331.9L500,331.2L510,330.4L520,329.7L530,329L540,328.3L550,327.6Z" fill="#00ff93"/>
<path d="M550,400L60,400L60,346.7L70,346.7L80,346.9L90,347.1L100,347.5L110,347.8L120,348.1L130,348.4L140,348.6L150,348.8L160,348.9L170,349L180,348.9L190,348.8L200,348.6L210,348.3L220,348L230,347.8L240,347.4L250,347L260,346.5L270,346.1L280,345.6L290,345.3L300,345.9L310,346.4L320,346.2L330,345.7L340,345.1L350,344.1L360,342.9L370,342L380,341.1L390,340.4L400,339.7L410,339.1L420,338.4L430,337.6L440,336.9L450,336.2L460,335.5L470,334.9L480,334.2L490,333.5L500,332.7L510,332L520,331.3L530,330.6L540,329.9L550,329.3Z" fill="#00ffa2"/>
<path d="M550,400L60,400L60,347.8L70,347.8L80,347.9L90,348.2L100,348.5L110,348.9L120,349.2L130,349.4L140,349.6L150,349.8L160,349.9L170,350L180,350L190,349.8L200,349.6L210,349.4L220,349.1L230,348.9L240,348.5L250,348.1L260,347.6L270,347.2L280,346.8L290,346.4L300,347.1L310,347.6L320,347.4L330,346.9L340,346.3L350,345.3L360,344.2L370,343.3L380,342.4L390,341.7L400,341L410,340.4L420,339.7L430,339L440,338.3L450,337.6L460,337L470,336.3L480,335.7L490,335L500,334.3L510,333.6L520,332.9L530,332.2L540,331.6L550,330.9Z" fill="#00ffb1"/>
<path d="M550,400L60,400L60,348.8L70,348.9L80,349L90,349.2L100,349.6L110,349.9L120,350.2L130,350.4L140,350.6L150,350.8L160,350.9L170,351L180,351L190,350.8L200,350.6L210,350.4L220,350.2L230,349.9L240,349.6L250,349.2L260,348.7L270,348.3L280,347.9L290,347.5L300,348.2L310,348.7L320,348.5L330,348.1L340,347.5L350,346.5L360,345.4L370,344.5L380,343.7L390,343L400,342.3L410,341.7L420,341L430,340.3L440,339.7L450,339L460,338.4L470,337.8L480,337.1L490,336.5L500,335.8L510,335.1L520,334.5L530,333.8L540,333.1L550,332.5Z" fill="#00ffc0"/>
<path d="M550,400L60,400L60,349.9L70,349.9L80,350L90,350.2L100,350.6L110,350.9L120,351.2L130,351.4L140,351.6L150,351.8L160,351.9L170,352L180,351.9L190,351.8L200,351.6L210,351.4L220,351.2L230,350.9L240,350.6L250,350.2L260,349.7L270,349.3L280,348.9L290,348.6L300,349.3L310,349.8L320,349.6L330,349.2L340,348.6L350,347.7L360,346.6L370,345.8L380,345L390,344.2L400,343.5L410,342.9L420,342.3L430,341.7L440,341L450,340.4L460,339.8L470,339.2L480,338.5L490,337.9L500,337.2L510,336.6L520,335.9L530,335.3L540,334.7L550,334Z" fill="#00ffcf"/>
<path d="M550,400L60,400L60,350.8L70,350.8L80,350.9L90,351.2L100,351.5L110,351.9L120,352.1L130,352.3L140,352.5L150,352.7L160,352.9L170,352.9L180,352.9L190,352.8L200,352.6L210,352.4L220,352.2L230,351.9L240,351.6L250,351.2L260,350.7L270,350.3L280,350L290,349.7L300,350.3L310,350.8L320,350.6L330,350.2L340,349.7L350,348.8L360,347.8L370,347L380,346.2L390,345.4L400,344.7L410,344.2L420,343.6L430,342.9L440,342.3L450,341.7L460,341.1L470,340.5L480,339.9L490,339.3L500,338.7L510,338L520,337.4L530,336.8L540,336.2L550,335.5Z" fill="#00ffde"/>
<path d="M550,400L60,400L60,351.8L70,351.8L80,351.9L90,352.1L100,352.5L110,352.8L120,353.1L130,353.3L140,353.5L150,353.7L160,353.8L170,353.8L180,353.8L190,353.7L200,353.5L210,353.4L220,353.1L230,352.9L240,352.6L250,352.1L260,351.7L270,351.3L280,351L290,350.8L300,351.4L310,351.8L320,351.6L330,351.3L340,350.7L350,349.9L360,348.9L370,348.1L380,347.4L390,346.6L400,345.9L410,345.3L420,344.8L430,344.2L440,343.6L450,343L460,342.4L470,341.9L480,341.3L490,340.7L500,340L510,339.4L520,338.8L530,338.2L540,337.6L550,337Z" fill="#00ffed"/>
<path d="M550,400L60,400L60,352.7L70,352.7L80,352.8L90,353L100,353.4L110,353.7L120,354L130,354.2L140,354.4L150,354.6L160,354.7L170,354.7L180,354.7L190,354.6L200,354.5L210,354.3L220,354.1L230,353.8L240,353.5L250,353.1L260,352.6L270,352.3L280,352L290,351.8L300,352.4L310,352.8L320,352.6L330,352.2L340,351.7L350,350.9L360,350L370,349.3L380,348.5L390,347.8L400,347.1L410,346.5L420,345.9L430,345.3L440,344.8L450,344.2L460,343.7L470,343.2L480,342.6L490,342L500,341.4L510,340.8L520,340.2L530,339.6L540,339L550,338.5Z" fill="#00fffc"/>
<path d="M550,400L60,400L60,353.5L70,353.5L80,353.7L90,353.9L100,354.2L110,354.6L120,354.9L130,355.1L140,355.3L150,355.4L160,355.6L170,355.6L180,355.6L190,355.5L200,355.3L210,355.2L220,355L230,354.8L240,354.4L250,354L260,353.5L270,353.2L280,352.9L290,352.8L300,353.3L310,353.8L320,353.6L330,353.2L340,352.7L350,351.9L360,351.1L370,350.4L380,349.6L390,348.9L400,348.2L410,347.6L420,347.1L430,346.5L440,346L450,345.5L460,344.9L470,344.4L480,343.9L490,343.3L500,342.7L510,342.1L520,341.6L530,341L540,340.4L550,339.9Z" fill="#00f7ff"/>
<path d="M550,400L60,400L60,354.4L70,354.4L80,354.5L90,354.8L100,355.1L110,355.5L120,355.7L130,355.9L140,356.1L150,356.3L160,356.4L170,356.5L180,356.4L190,356.3L200,356.2L210,356L220,355.9L230,355.6L240,355.3L250,354.9L260,354.4L270,354.1L280,353.9L290,353.8L300,354.3L310,354.7L320,354.5L330,354.2L340,353.7L350,352.9L360,352.1L370,351.4L380,350.7L390,350L400,349.3L410,348.7L420,348.2L430,347.7L440,347.1L450,346.6L460,346.2L470,345.7L480,345.1L490,344.6L500,344L510,343.4L520,342.9L530,342.3L540,341.8L550,341.2Z" fill="#00eeff"/>
<path d="M550,400L60,400L60,355.2L70,355.2L80,355.3L90,355.6L100,355.9L110,356.3L120,356.6L130,356.8L140,357L150,357.1L160,357.2L170,357.3L180,357.3L190,357.2L200,357L210,356.9L220,356.7L230,356.5L240,356.1L250,355.7L260,355.3L270,355L280,354.8L290,354.7L300,355.2L310,355.6L320,355.4L330,355.1L340,354.6L350,353.9L360,353.1L370,352.5L380,351.8L390,351L400,350.3L410,349.7L420,349.2L430,348.8L440,348.3L450,347.8L460,347.3L470,346.9L480,346.4L490,345.8L500,345.3L510,344.7L520,344.2L530,343.6L540,343.1L550,342.6Z" fill="#00e4ff"/>
<path d="M550,400L60,400L60,356L70,356L80,356.1L90,356.4L100,356.8L110,357.1L120,357.4L130,357.6L140,357.8L150,357.9L160,358.1L170,358.1L180,358.1L190,358L200,357.9L210,357.7L220,357.5L230,357.3L240,357L250,356.6L260,356.1L270,355.8L280,355.7L290,355.7L300,356.1L310,356.4L320,356.3L330,355.9L340,355.4L350,354.8L360,354.1L370,353.5L380,352.8L390,352.1L400,351.4L410,350.8L420,350.3L430,349.8L440,349.4L450,348.9L460,348.5L470,348L480,347.5L490,347L500,346.5L510,346L520,345.4L530,344.9L540,344.4L550,343.9Z" fill="#00daff"/>
<path d="M550,400L60,400L60,356.8L70,356.8L80,356.9L90,357.2L100,357.6L110,357.9L120,358.2L130,358.4L140,358.6L150,358.7L160,358.8L170,358.9L180,358.9L190,358.8L200,358.7L210,358.5L220,358.3L230,358.1L240,357.8L250,357.4L260,356.9L270,356.6L280,356.5L290,356.6L300,357L310,357.3L320,357.2L330,356.8L340,356.3L350,355.7L360,355.1L370,354.5L380,353.8L390,353.1L400,352.4L410,351.8L420,351.3L430,350.9L440,350.5L450,350L460,349.6L470,349.2L480,348.7L490,348.2L500,347.7L510,347.2L520,346.7L530,346.2L540,345.7L550,345.2Z" fill="#00d1ff"/>
<path d="M550,400L60,400L60,357.5L70,357.6L80,357.7L90,358L100,358.3L110,358.7L120,359L130,359.2L140,359.3L150,359.5L160,359.6L170,359.6L180,359.6L190,359.5L200,359.4L210,359.3L220,359.1L230,358.9L240,358.6L250,358.2L260,357.7L270,357.5L280,357.4L290,357.5L300,357.8L310,358.1L320,358L330,357.6L340,357.1L350,356.6L360,356L370,355.4L380,354.8L390,354L400,353.3L410,352.8L420,352.3L430,351.9L440,351.5L450,351.1L460,350.7L470,350.3L480,349.8L490,349.4L500,348.8L510,348.3L520,347.9L530,347.4L540,346.9L550,346.4Z" fill="#00c7ff"/>
<path d="M550,400L60,400L60,358.3L70,358.3L80,358.5L90,358.7L100,359.1L110,359.4L120,359.7L130,359.9L140,360.1L150,360.2L160,360.3L170,360.4L180,360.4L190,360.3L200,360.2L210,360L220,359.9L230,359.7L240,359.4L250,358.9L260,358.5L270,358.2L280,358.2L290,358.3L300,358.7L310,358.9L320,358.8L330,358.4L340,358L350,357.4L360,356.9L370,356.3L380,355.7L390,355L400,354.3L410,353.7L420,353.3L430,352.9L440,352.6L450,352.2L460,351.8L470,351.4L480,350.9L490,350.5L500,350L510,349.5L520,349L530,348.6L540,348.1L550,347.6Z" fill="#00bdff"/>
<path d="M550,400L60,400L60,359L70,359L80,359.2L90,359.5L100,359.8L110,360.2L120,360.5L130,360.7L140,360.8L150,361L160,361.1L170,361.1L180,361.1L190,361L200,360.9L210,360.8L220,360.6L230,360.5L240,360.1L250,359.7L260,359.3L270,359L280,359L290,359.2L300,359.5L310,359.7L320,359.6L330,359.2L340,358.8L350,358.3L360,357.8L370,357.2L380,356.6L390,355.9L400,355.2L410,354.7L420,354.3L430,353.9L440,353.6L450,353.2L460,352.8L470,352.4L480,352L490,351.6L500,351.1L510,350.6L520,350.2L530,349.7L540,349.3L550,348.8Z" fill="#00b4ff"/>
<path d="M550,400L60,400L60,359.8L70,359.8L80,359.9L90,360.2L100,360.6L110,360.9L120,361.2L130,361.4L140,361.5L150,361.7L160,361.8L170,361.8L180,361.8L190,361.7L200,361.6L210,361.5L220,361.4L230,361.2L240,360.9L250,360.4L260,360L270,359.8L280,359.8L290,360L300,360.3L310,360.4L320,360.4L330,360L340,359.5L350,359.1L360,358.6L370,358.1L380,357.5L390,356.8L400,356.1L410,355.6L420,355.2L430,354.9L440,354.5L450,354.2L460,353.8L470,353.5L480,353.1L490,352.6L500,352.2L510,351.7L520,351.3L530,350.9L540,350.4L550,350Z" fill="#00aaff"/>
<path d="M550,400L60,400L60,360.5L70,360.5L80,360.7L90,360.9L100,361.3L110,361.6L120,361.9L130,362.1L140,362.2L150,362.4L160,362.5L170,362.5L180,362.5L190,362.4L200,362.3L210,362.2L220,362.1L230,361.9L240,361.6L250,361.2L260,360.8L270,360.5L280,360.5L290,360.7L300,361L310,361.2L320,361.1L330,360.8L340,360.3L350,359.9L360,359.4L370,359L380,358.4L390,357.7L400,357L410,356.5L420,356.1L430,355.8L440,355.5L450,355.2L460,354.8L470,354.5L480,354.1L490,353.7L500,353.2L510,352.8L520,352.4L530,352L540,351.5L550,351.1Z" fill="#00a0ff"/>
<path d="M550,400L60,400L60,361.2L70,361.2L80,361.4L90,361.7L100,362L110,362.3L120,362.6L130,362.8L140,362.9L150,363L160,363.1L170,363.2L180,363.2L190,363.1L200,363L210,362.9L220,362.8L230,362.6L240,362.3L250,361.9L260,361.5L270,361.3L280,361.3L290,361.5L300,361.8L310,361.9L320,361.9L330,361.5L340,361.1L350,360.7L360,360.3L370,359.8L380,359.2L390,358.6L400,357.9L410,357.4L420,357L430,356.7L440,356.4L450,356.1L460,355.8L470,355.5L480,355.1L490,354.7L500,354.3L510,353.9L520,353.5L530,353.1L540,352.6L550,352.2Z" fill="#0096ff"/>
<path d="M550,400L60,400L60,361.9L70,362L80,362.1L90,362.4L100,362.7L110,363L120,363.3L130,363.5L140,363.6L150,363.7L160,363.8L170,363.8L180,363.8L190,363.8L200,363.7L210,363.6L220,363.5L230,363.3L240,363L250,362.6L260,362.2L270,362L280,362L290,362.3L300,362.5L310,362.6L320,362.6L330,362.3L340,361.8L350,361.4L360,361.1L370,360.6L380,360.1L390,359.4L400,358.8L410,358.3L420,357.9L430,357.7L440,357.4L450,357.1L460,356.8L470,356.5L480,356.1L490,355.7L500,355.3L510,354.9L520,354.5L530,354.1L540,353.7L550,353.3Z" fill="#008cff"/>
<path d="M550,400L60,400L60,362.7L70,362.7L80,362.8L90,363.1L100,363.4L110,363.7L120,364L130,364.1L140,364.3L150,364.4L160,364.5L170,364.5L180,364.5L190,364.4L200,364.4L210,364.3L220,364.1L230,364L240,363.7L250,363.3L260,363L270,362.7L280,362.8L290,363L300,363.2L310,363.4L320,363.3L330,363L340,362.6L350,362.2L360,361.9L370,361.4L380,360.9L390,360.3L400,359.7L410,359.2L420,358.8L430,358.6L440,358.3L450,358L460,357.7L470,357.4L480,357.1L490,356.7L500,356.3L510,355.9L520,355.6L530,355.2L540,354.8L550,354.4Z" fill="#0083ff"/>
<path d="M550,400L60,400L60,363.4L70,363.4L80,363.5L90,363.8L100,364.1L110,364.4L120,364.7L130,364.8L140,364.9L150,365.1L160,365.1L170,365.2L180,365.2L190,365.1L200,365L210,364.9L220,364.8L230,364.7L240,364.4L250,364L260,363.7L270,363.5L280,363.5L290,363.7L300,364L310,364.1L320,364L330,363.7L340,363.3L350,363L360,362.6L370,362.2L380,361.8L390,361.1L400,360.5L410,360.1L420,359.7L430,359.5L440,359.2L450,359L460,358.7L470,358.4L480,358.1L490,357.7L500,357.4L510,357L520,356.6L530,356.3L540,355.9L550,355.5Z" fill="#0079ff"/>
<path d="M550,400L60,400L60,364.1L70,364.1L80,364.2L90,364.5L100,364.8L110,365.1L120,365.3L130,365.5L140,365.6L150,365.7L160,365.8L170,365.8L180,365.8L190,365.8L200,365.7L210,365.6L220,365.5L230,365.4L240,365.1L250,364.7L260,364.4L270,364.2L280,364.2L290,364.5L300,364.7L310,364.8L320,364.7L330,364.5L340,364.1L350,363.7L360,363.4L370,363.1L380,362.6L390,362L400,361.4L410,360.9L420,360.6L430,360.4L440,360.2L450,359.9L460,359.7L470,359.4L480,359.1L490,358.7L500,358.4L510,358L520,357.7L530,357.3L540,357L550,356.6Z" fill="#006fff"/>
<path d="M550,400L60,400L60,364.8L70,364.8L80,364.9L90,365.2L100,365.5L110,365.7L120,366L130,366.1L140,366.3L150,366.4L160,366.4L170,366.5L180,366.5L190,366.4L200,366.3L210,366.3L220,366.2L230,366L240,365.7L250,365.4L260,365.1L270,364.9L280,365L290,365.2L300,365.4L310,365.5L320,365.4L330,365.2L340,364.8L350,364.5L360,364.2L370,363.9L380,363.4L390,362.8L400,362.2L410,361.8L420,361.5L430,361.3L440,361.1L450,360.8L460,360.6L470,360.3L480,360L490,359.7L500,359.4L510,359L520,358.7L530,358.4L540,358L550,357.7Z" fill="#0065ff"/>
<path d="M550,400L60,400L60,365.5L70,365.5L80,365.6L90,365.8L100,366.1L110,366.4L120,366.6L130,366.8L140,366.9L150,367L160,367.1L170,367.1L180,367.1L190,367.1L200,367L210,366.9L220,366.8L230,366.7L240,366.4L250,366.1L260,365.8L270,365.6L280,365.7L290,365.9L300,366.1L310,366.2L320,366.1L330,365.9L340,365.5L350,365.2L360,365L370,364.6L380,364.2L390,363.6L400,363.1L410,362.6L420,362.4L430,362.2L440,362L450,361.7L460,361.5L470,361.3L480,361L490,360.7L500,360.3L510,360L520,359.7L530,359.4L540,359.1L550,358.8Z" fill="#005bff"/>
<path d="M550,400L60,400L60,366.1L70,366.2L80,366.3L90,366.5L100,366.8L110,367.1L120,367.3L130,367.4L140,367.5L150,367.6L160,367.7L170,367.7L180,367.7L190,367.7L200,367.6L210,367.6L220,367.5L230,367.4L240,367.1L250,366.8L260,366.5L270,366.3L280,366.4L290,366.6L300,366.8L310,366.9L320,366.8L330,366.6L340,366.2L350,366L360,365.7L370,365.4L380,365L390,364.5L400,363.9L410,363.5L420,363.2L430,363.1L440,362.9L450,362.7L460,362.4L470,362.2L480,361.9L490,361.6L500,361.3L510,361L520,360.7L530,360.4L540,360.1L550,359.8Z" fill="#0052ff"/>
<path d="M550,400L60,400L60,366.8L70,366.8L80,367L90,367.2L100,367.5L110,367.7L120,367.9L130,368.1L140,368.2L150,368.3L160,368.3L170,368.4L180,368.4L190,368.3L200,368.3L210,368.2L220,368.1L230,368L240,367.7L250,367.4L260,367.1L270,367L280,367.1L290,367.3L300,367.5L310,367.5L320,367.5L330,367.3L340,366.9L350,366.7L360,366.5L370,366.2L380,365.8L390,365.3L400,364.7L410,364.3L420,364.1L430,363.9L440,363.7L450,363.5L460,363.3L470,363.1L480,362.9L490,362.6L500,362.3L510,362L520,361.7L530,361.4L540,361.2L550,360.8Z" fill="#0048ff"/>
<path d="M550,400L60,400L60,367.5L70,367.5L80,367.6L90,367.8L100,368.1L110,368.4L120,368.6L130,368.7L140,368.8L150,368.9L160,369L170,369L180,369L190,368.9L200,368.9L210,368.8L220,368.8L230,368.6L240,368.4L250,368.1L260,367.8L270,367.7L280,367.8L290,368L300,368.1L310,368.2L320,368.2L330,367.9L340,367.6L350,367.4L360,367.2L370,366.9L380,366.6L390,366.1L400,365.5L410,365.1L420,364.9L430,364.8L440,364.6L450,364.4L460,364.2L470,364L480,363.8L490,363.5L500,363.2L510,363L520,362.7L530,362.4L540,362.2L550,361.9Z" fill="#003eff"/>
<path d="M550,400L60,400L60,368.2L70,368.2L80,368.3L90,368.5L100,368.7L110,369L120,369.2L130,369.3L140,369.4L150,369.5L160,369.6L170,369.6L180,369.6L190,369.6L200,369.5L210,369.4L220,369.4L230,369.3L240,369L250,368.7L260,368.5L270,368.3L280,368.4L290,368.7L300,368.8L310,368.9L320,368.9L330,368.6L340,368.3L350,368.1L360,368L370,367.7L380,367.3L390,366.8L400,366.4L410,366L420,365.8L430,365.6L440,365.5L450,365.3L460,365.1L470,364.9L480,364.7L490,364.5L500,364.2L510,363.9L520,363.7L530,363.4L540,363.2L550,362.9Z" fill="#0034ff"/>
<path d="M550,400L60,400L60,368.8L70,368.8L80,368.9L90,369.1L100,369.4L110,369.6L120,369.8L130,369.9L140,370L150,370.1L160,370.2L170,370.2L180,370.2L190,370.2L200,370.1L210,370.1L220,370L230,369.9L240,369.7L250,369.4L260,369.1L270,369L280,369.1L290,369.4L300,369.5L310,369.5L320,369.5L330,369.3L340,369L350,368.8L360,368.7L370,368.4L380,368.1L390,367.6L400,367.1L410,366.8L420,366.6L430,366.5L440,366.3L450,366.2L460,366L470,365.8L480,365.6L490,365.4L500,365.1L510,364.9L520,364.6L530,364.4L540,364.2L550,363.9Z" fill="#002aff"/>
<path d="M550,400L60,400L60,369.5L70,369.5L80,369.6L90,369.8L100,370L110,370.2L120,370.4L130,370.5L140,370.6L150,370.7L160,370.8L170,370.8L180,370.8L190,370.8L200,370.7L210,370.7L220,370.6L230,370.5L240,370.3L250,370L260,369.8L270,369.6L280,369.8L290,370L300,370.1L310,370.2L320,370.1L330,369.9L340,369.7L350,369.5L360,369.4L370,369.1L380,368.8L390,368.4L400,367.9L410,367.6L420,367.4L430,367.3L440,367.2L450,367L460,366.9L470,366.7L480,366.5L490,366.3L500,366L510,365.8L520,365.6L530,365.4L540,365.1L550,364.9Z" fill="#0020ff"/>
<path d="M550,400L60,400L60,370.1L70,370.1L80,370.2L90,370.4L100,370.6L110,370.9L120,371L130,371.1L140,371.2L150,371.3L160,371.3L170,371.4L180,371.4L190,371.3L200,371.3L210,371.3L220,371.2L230,371.1L240,370.9L250,370.6L260,370.4L270,370.3L280,370.4L290,370.7L300,370.8L310,370.8L320,370.8L330,370.6L340,370.3L350,370.2L360,370.1L370,369.9L380,369.5L390,369.1L400,368.7L410,368.4L420,368.2L430,368.1L440,368L450,367.8L460,367.7L470,367.6L480,367.4L490,367.2L500,366.9L510,366.7L520,366.5L530,366.3L540,366.1L550,365.9Z" fill="#0017ff"/>
<path d="M550,400L60,400L60,370.7L70,370.7L80,370.8L90,371L100,371.2L110,371.5L120,371.6L130,371.7L140,371.8L150,371.9L160,371.9L170,371.9L180,371.9L190,371.9L200,371.9L210,371.8L220,371.8L230,371.7L240,371.5L250,371.3L260,371L270,370.9L280,371L290,371.3L300,371.4L310,371.4L320,371.4L330,371.2L340,371L350,370.8L360,370.7L370,370.6L380,370.3L390,369.9L400,369.4L410,369.1L420,369L430,368.9L440,368.8L450,368.7L460,368.5L470,368.4L480,368.2L490,368L500,367.8L510,367.6L520,367.4L530,367.2L540,367L550,366.8Z" fill="#000dff"/>
<path d="M550,400L60,400L60,371.4L70,371.4L80,371.5L90,371.6L100,371.8L110,372L120,372.2L130,372.3L140,372.4L150,372.4L160,372.5L170,372.5L180,372.5L190,372.5L200,372.4L210,372.4L220,372.4L230,372.3L240,372.1L250,371.9L260,371.6L270,371.6L280,371.7L290,371.9L300,372L310,372L320,372L330,371.8L340,371.6L350,371.5L360,371.4L370,371.2L380,371L390,370.6L400,370.2L410,369.9L420,369.7L430,369.7L440,369.6L450,369.5L460,369.4L470,369.2L480,369.1L490,368.9L500,368.7L510,368.5L520,368.3L530,368.1L540,368L550,367.8Z" fill="#0003ff"/>
<path d="M550,400L60,400L60,372L70,372L80,372.1L90,372.2L100,372.4L110,372.6L120,372.8L130,372.9L140,372.9L150,373L160,373L170,373L180,373L190,373L200,373L210,373L220,372.9L230,372.9L240,372.7L250,372.4L260,372.2L270,372.2L280,372.3L290,372.5L300,372.6L310,372.6L320,372.6L330,372.4L340,372.2L350,372.1L360,372.1L370,371.9L380,371.6L390,371.3L400,370.9L410,370.6L420,370.5L430,370.4L440,370.4L450,370.3L460,370.2L470,370L480,369.9L490,369.7L500,369.6L510,369.4L520,369.2L530,369L540,368.9L550,368.7Z" fill="#0000f9"/>
<path d="M550,400L60,400L60,372.6L70,372.6L80,372.7L90,372.8L100,373L110,373.2L120,373.3L130,373.4L140,373.5L150,373.5L160,373.6L170,373.6L180,373.6L190,373.6L200,373.5L210,373.5L220,373.5L230,373.4L240,373.2L250,373L260,372.8L270,372.8L280,372.9L290,373.1L300,373.2L310,373.2L320,373.2L330,373L340,372.8L350,372.7L360,372.7L370,372.6L380,372.3L390,372L400,371.6L410,371.4L420,371.2L430,371.2L440,371.1L450,371L460,370.9L470,370.8L480,370.7L490,370.6L500,370.4L510,370.2L520,370.1L530,369.9L540,369.8L550,369.6Z" fill="#0000f0"/>
<path d="M550,400L60,400L60,373.2L70,373.2L80,373.3L90,373.4L100,373.6L110,373.7L120,373.9L130,373.9L140,374L150,374.1L160,374.1L170,374.1L180,374.1L190,374.1L200,374.1L210,374L220,374L230,374L240,373.8L250,373.6L260,373.4L270,373.4L280,373.5L290,373.7L300,373.7L310,373.7L320,373.8L330,373.6L340,373.4L350,373.4L360,373.3L370,373.2L380,373L390,372.7L400,372.3L410,372.1L420,372L430,371.9L440,371.9L450,371.8L460,371.7L470,371.6L480,371.5L490,371.4L500,371.2L510,371.1L520,370.9L530,370.8L540,370.6L550,370.5Z" fill="#0000e6"/>
<path d="M550,400L60,400L60,373.8L70,373.8L80,373.8L90,374L100,374.1L110,374.3L120,374.4L130,374.5L140,374.5L150,374.6L160,374.6L170,374.6L180,374.6L190,374.6L200,374.6L210,374.6L220,374.5L230,374.5L240,374.3L250,374.2L260,374L270,373.9L280,374L290,374.3L300,374.3L310,374.3L320,374.3L330,374.2L340,374L350,373.9L360,373.9L370,373.8L380,373.6L390,373.3L400,373L410,372.8L420,372.7L430,372.7L440,372.6L450,372.5L460,372.5L470,372.4L480,372.3L490,372.2L500,372L510,371.9L520,371.8L530,371.6L540,371.5L550,371.4Z" fill="#0000dd"/>
<path d="M550,400L60,400L60,374.3L70,374.3L80,374.4L90,374.5L100,374.7L110,374.8L120,374.9L130,375L140,375L150,375.1L160,375.1L170,375.1L180,375.1L190,375.1L200,375.1L210,375.1L220,375.1L230,375L240,374.9L250,374.7L260,374.6L270,374.5L280,374.6L290,374.8L300,374.8L310,374.8L320,374.8L330,374.7L340,374.6L350,374.5L360,374.5L370,374.4L380,374.2L390,374L400,373.7L410,373.5L420,373.4L430,373.4L440,373.3L450,373.3L460,373.2L470,373.1L480,373.1L490,372.9L500,372.8L510,372.7L520,372.6L530,372.5L540,372.4L550,372.2Z" fill="#0000d4"/>
<path d="M550,400L60,400L60,374.9L70,374.9L80,375L90,375.1L100,375.2L110,375.3L120,375.4L130,375.5L140,375.5L150,375.6L160,375.6L170,375.6L180,375.6L190,375.6L200,375.6L210,375.6L220,375.6L230,375.5L240,375.4L250,375.2L260,375.1L270,375.1L280,375.2L290,375.4L300,375.4L310,375.4L320,375.4L330,375.3L340,375.1L350,375.1L360,375.1L370,375L380,374.8L390,374.6L400,374.4L410,374.2L420,374.1L430,374.1L440,374L450,374L460,373.9L470,373.9L480,373.8L490,373.7L500,373.6L510,373.5L520,373.4L530,373.3L540,373.2L550,373.1Z" fill="#0000cb"/>
<path d="M550,400L60,400L60,375.5L70,375.5L80,375.5L90,375.6L100,375.7L110,375.8L120,375.9L130,376L140,376L150,376.1L160,376.1L170,376.1L180,376.1L190,376.1L200,376.1L210,376.1L220,376L230,376L240,375.9L250,375.8L260,375.6L270,375.6L280,375.7L290,375.9L300,375.9L310,375.9L320,375.9L330,375.8L340,375.7L350,375.6L360,375.6L370,375.6L380,375.4L390,375.2L400,375L410,374.8L420,374.8L430,374.7L440,374.7L450,374.7L460,374.6L470,374.6L480,374.5L490,374.4L500,374.3L510,374.2L520,374.2L530,374.1L540,374L550,373.9Z" fill="#0000c2"/>
<path d="M550,400L60,400L60,376L70,376L80,376L90,376.1L100,376.2L110,376.3L120,376.4L130,376.5L140,376.5L150,376.5L160,376.5L170,376.5L180,376.5L190,376.5L200,376.5L210,376.5L220,376.5L230,376.5L240,376.4L250,376.3L260,376.2L270,376.1L280,376.2L290,376.4L300,376.4L310,376.4L320,376.4L330,376.3L340,376.2L350,376.2L360,376.2L370,376.1L380,376L390,375.8L400,375.6L410,375.5L420,375.4L430,375.4L440,375.4L450,375.4L460,375.3L470,375.3L480,375.2L490,375.1L500,375.1L510,375L520,374.9L530,374.8L540,374.8L550,374.7Z" fill="#0000b9"/>
<path d="M550,400L60,400L60,376.5L70,376.5L80,376.6L90,376.6L100,376.7L110,376.8L120,376.9L130,376.9L140,376.9L150,377L160,377L170,377L180,377L190,377L200,377L210,377L220,377L230,376.9L240,376.9L250,376.8L260,376.7L270,376.6L280,376.7L290,376.9L300,376.9L310,376.9L320,376.9L330,376.8L340,376.7L350,376.7L360,376.7L370,376.7L380,376.6L390,376.4L400,376.2L410,376.1L420,376.1L430,376.1L440,376L450,376L460,376L470,375.9L480,375.9L490,375.8L500,375.8L510,375.7L520,375.6L530,375.6L540,375.5L550,375.4Z" fill="#0000b0"/>
<path d="M550,400L60,400L60,377L70,377L80,377.1L90,377.1L100,377.2L110,377.3L120,377.3L130,377.4L140,377.4L150,377.4L160,377.4L170,377.4L180,377.4L190,377.4L200,377.4L210,377.4L220,377.4L230,377.4L240,377.3L250,377.2L260,377.2L270,377.1L280,377.2L290,377.3L300,377.3L310,377.3L320,377.3L330,377.3L340,377.2L350,377.2L360,377.2L370,377.2L380,377.1L390,377L400,376.8L410,376.7L420,376.7L430,376.7L440,376.7L450,376.7L460,376.6L470,376.6L480,376.6L490,376.5L500,376.5L510,376.4L520,376.4L530,376.3L540,376.3L550,376.2Z" fill="#0000a7"/>
<path d="M550,400L60,400L60,377.6L70,377.6L80,377.6L90,377.6L100,377.7L110,377.7L120,377.8L130,377.8L140,377.8L150,377.8L160,377.8L170,377.8L180,377.8L190,377.8L200,377.8L210,377.8L220,377.8L230,377.8L240,377.8L250,377.7L260,377.6L270,377.6L280,377.7L290,377.8L300,377.8L310,377.8L320,377.8L330,377.7L340,377.7L350,377.7L360,377.7L370,377.7L380,377.6L390,377.5L400,377.4L410,377.3L420,377.3L430,377.3L440,377.3L450,377.3L460,377.3L470,377.2L480,377.2L490,377.2L500,377.1L510,377.1L520,377.1L530,377L540,377L550,376.9Z" fill="#00009e"/>
<path d="M550,400L60,400L60,378L70,378L80,378.1L90,378.1L100,378.1L110,378.2L120,378.2L130,378.2L140,378.2L150,378.2L160,378.2L170,378.2L180,378.2L190,378.2L200,378.2L210,378.2L220,378.2L230,378.2L240,378.2L250,378.1L260,378.1L270,378.1L280,378.1L290,378.2L300,378.2L310,378.2L320,378.2L330,378.2L340,378.1L350,378.1L360,378.1L370,378.1L380,378.1L390,378L400,377.9L410,377.9L420,377.9L430,377.9L440,377.9L450,377.9L460,377.9L470,377.8L480,377.8L490,377.8L500,377.8L510,377.7L520,377.7L530,377.7L540,377.7L550,377.6Z" fill="#000095"/>
<path d="M550,400L60,400L60,378.5L70,378.5L80,378.5L90,378.6L100,378.6L110,378.6L120,378.6L130,378.6L140,378.6L150,378.6L160,378.6L170,378.6L180,378.6L190,378.6L200,378.6L210,378.6L220,378.6L230,378.6L240,378.6L250,378.6L260,378.6L270,378.6L280,378.6L290,378.6L300,378.6L310,378.6L320,378.6L330,378.6L340,378.6L350,378.6L360,378.6L370,378.6L380,378.6L390,378.5L400,378.5L410,378.5L420,378.4L430,378.4L440,378.4L450,378.4L460,378.4L470,378.4L480,378.4L490,378.4L500,378.4L510,378.4L520,378.4L530,378.4L540,378.4L550,378.3Z" fill="#00008c"/>
<path d="M60,168L67,175.5L68.4,176.4L83,191.6L98,201L117,208L136,212.6L159,214.5L186,210.7L212.7,206L240,204L267,202.3L295.5,198.5L335.5,190.7L373.6,180L400,173.6L427,164L454.5,154.5L482,146.4L495.5,139.5L509,128.6L522.7,113.6L531,100L532.3,90L531,78L524,64L519.5,57L514,49L502.5,37.6L495,30L495,0L60,0Z" fill="#dc0000"/>
<path d="M55,150L67,166.5L80,182L98,193.5L117,200.5L136,205L159,207.2L171,207L186,204L213,199.5L240,197L267,195L295,191.5L335,183.5L373,173L400,166L427,156.5L454,147L478,138L492,131L504,121L514,108L519.5,96L520.5,88L519,78L514,66L507,54L498,43L488,34L478,27.5L474,0L55,0Z" fill="#d20000"/>
<path d="M88,97L90,123L92,146L96,163L108,181L130,193.4L153,199.8L178.5,198.5L203.7,192L240,188.5L270,186L300,183L340,176L378,166L405,158L430,149L454,140L474,131.5L488,123.5L499,113.5L506.5,102L509,90L508.5,80L505,66L499.6,53.3L491,42L481.8,33L465,22L443.6,12.6L440,0L88,0Z" fill="#c80000"/>
<path d="M139.7,56L128,75L116.6,100.8L115,119L118,143L123,157L131,170L150.5,184.5L170.9,188.3L203.7,183.3L240,178L270,175L300,171.5L340,164.5L378,155L405,147L430,139L452,130.5L468,122.5L480,113L488,102L491,91L490,80L485,69L478,58L468,45L455,33L440,23L425,15L412,9L405,0L139,0Z" fill="#be0000"/>
<path d="M200,37L180,50L165,66L155,82L150,100L149,115L152,135L156,150L162,162L176,171L190,171.5L203.7,170.5L240,165L270,160.5L297,156L325,150L349,143.5L378,131L390,123.5L397,118L379.6,107L390,97L407,87L430.5,76.7L448,74L454,66.5L451,52L436,37.5L416,32.5L378,27L340,28.6L300,27.5L260,26.5L235,25.5L215,30Z" fill="#b40000"/>
<path d="M160,83.3L154.3,96.2L152.4,111L157.5,117L169,123.5L184.5,118.5L200,116.5L219,114.3L240,111.5L253.6,108L271,98.7L290,91.5L305.4,86.6L325,81L340,76L347,72.5L338,67L320,60.5L300,55L280,50.5L250,48L220,48L200,51.5L185,57.5L170,68Z" fill="#aa0000"/>
<path d="M167.3,73.8L176,67L188,60.7L205.3,56.2L219,54.5L239.8,54.5L253.6,55.5L267.4,58L288.2,60.7L305.4,63.5L319.3,69.4L323.7,73.8L315.8,77.3L295,83.2L274.4,90L257,95.3L246.7,100.4L235,104L219,105.6L201.8,107.4L184.5,109L176,112L169,114.3L163.8,105.6L163.1,91.8L164.5,81.5Z" fill="#a00000"/>
</g>
<g clip-path="url(#dc)" fill="none" stroke="#180400" stroke-width="0.85" stroke-opacity="0.95" stroke-linejoin="round">
<path d="M60,360.5L67,360.5L74,360.5L81,360.7L88,360.9L95,361.1L102,361.4L109,361.6L116,361.8L123,362L130,362.1L137,362.2L144,362.3L151,362.4L158,362.4L165,362.5L172,362.5L179,362.5L186,362.4L193,362.4L200,362.3L207,362.2L214,362.2L221,362.1L228,361.9L235,361.8L242,361.5L249,361.2L256,360.9L263,360.7L270,360.5L277,360.5L284,360.6L291,360.8L298,361L305,361.1L312,361.2L319,361.1L326,360.9L333,360.6L340,360.3L347,360L354,359.7L361,359.4L368,359.1L375,358.7L382,358.3L389,357.8L396,357.3L403,356.9L410,356.5L417,356.2L424,356L431,355.8L438,355.6L445,355.3L452,355.1L459,354.9L466,354.6L473,354.4L480,354.1L487,353.8L494,353.5L501,353.2L508,352.9L515,352.6L522,352.3L529,352L536,351.7L543,351.4L550,351.1"/>
<path d="M60,347.8L67,347.8L74,347.8L81,348L88,348.2L95,348.4L102,348.6L109,348.9L116,349.1L123,349.3L130,349.4L137,349.5L144,349.7L151,349.8L158,349.9L165,350L172,350L179,350L186,349.9L193,349.8L200,349.6L207,349.5L214,349.3L221,349.1L228,348.9L235,348.7L242,348.4L249,348.1L256,347.8L263,347.5L270,347.2L277,346.9L284,346.6L291,346.4L298,346.9L305,347.5L312,347.6L319,347.4L326,347.1L333,346.8L340,346.3L347,345.6L354,344.8L361,344.1L368,343.4L375,342.8L382,342.3L389,341.8L396,341.3L403,340.8L410,340.4L417,339.9L424,339.4L431,338.9L438,338.4L445,338L452,337.5L459,337L466,336.6L473,336.1L480,335.7L487,335.2L494,334.7L501,334.2L508,333.7L515,333.3L522,332.8L529,332.3L536,331.8L543,331.4L550,330.9"/>
<path d="M60,326L67,326.3L74,326.7L81,327.2L88,327.7L95,328.2L102,328.6L109,329.1L116,329.6L123,329.9L130,330.1L137,330.2L144,330.3L151,330.4L158,330.5L165,330.5L172,330.5L179,330.4L186,330.1L193,329.8L200,329.4L207,329L214,328.6L221,328.2L228,327.9L235,327.6L242,327.3L249,327L256,326.7L263,326.5L270,326.2L277,325.9L284,325.6L291,325.4L298,325.4L305,325.4L312,325.4L319,325.1L326,324.3L333,323.1L340,321.9L347,320.9L354,320.1L361,319.4L368,318.6L375,318L382,317.3L389,316.7L396,316.2L403,315.6L410,315L417,314.3L424,313.6L431,312.9L438,312.2L445,311.5L452,310.8L459,310.1L466,309.4L473,308.7L480,308L487,307.3L494,306.6L501,305.9L508,305.3L515,304.6L522,303.9L529,303.2L536,302.5L543,301.8L550,301.1"/>
<path d="M60,294L67,294.5L74,295.2L81,296.1L88,297.1L95,298.1L102,298.9L109,299.5L116,300.1L123,300.7L130,301L137,301L144,300.9L151,300.7L158,300.5L165,300.3L172,299.7L179,298.9L186,298.1L193,297.3L200,296.5L207,295.7L214,294.9L221,294.4L228,294.1L235,293.9L242,293.6L249,293.5L256,293.3L263,293L270,292.8L277,292.4L284,291.8L291,291.1L298,290.5L305,289.8L312,289.1L319,288.3L326,287.4L333,286.4L340,285L347,283.6L354,282.3L361,281.2L368,280.3L375,279.5L382,278.6L389,277.7L396,276.7L403,275.8L410,275L417,274.3L424,273.6L431,272.9L438,272.2L445,271.5L452,270.8L459,270.1L466,269.4L473,268.7L480,268L487,267.3L494,266.6L501,265.9L508,265.3L515,264.6L522,263.9L529,263.2L536,262.5L543,261.8L550,261.1"/>
<path d="M60,241L67,239.8L74,238.1L81,236.1L88,234.8L95,237.6L102,240.2L109,242.4L116,244.5L123,246.3L130,247.5L137,248.2L144,248.7L151,249L158,248.9L165,248.3L172,247.6L179,246.9L186,246.1L193,245.1L200,244L207,242.8L214,241.4L221,240L228,238.6L235,237.1L242,236.2L249,235.7L256,235.2L263,234.9L270,234.4L277,233.9L284,233.4L291,232.8L298,232.1L305,231.2L312,229.8L319,228.5L326,227.2L333,226L340,224.7L347,223.4L354,222.1L361,220.8L368,219.4L375,218L382,216.6L389,215.2L396,213.8L403,212.3L410,210.7L417,208.9L424,207.1L431,205.4L438,203.6L445,201.9L452,200.1L459,198.4L466,196.7L473,194.9L480,193.2L487,191.5L494,189.8L501,188L508,186.3L515,184.4L522,182.4L529,180.4L536,178.4L543,176.4L550,174.5"/>
<path d="M60,168L67,175.5L68.4,176.4L83,191.6L98,201L117,208L136,212.6L159,214.5L186,210.7L212.7,206L240,204L267,202.3L295.5,198.5L335.5,190.7L373.6,180L400,173.6L427,164L454.5,154.5L482,146.4L495.5,139.5L509,128.6L522.7,113.6L531,100L532.3,90L531,78L524,64L519.5,57L514,49L502.5,37.6L495,30"/>
<path d="M167.3,73.8L176,67L188,60.7L205.3,56.2L219,54.5L239.8,54.5L253.6,55.5L267.4,58L288.2,60.7L305.4,63.5L319.3,69.4L323.7,73.8L315.8,77.3L295,83.2L274.4,90L257,95.3L246.7,100.4L235,104L219,105.6L201.8,107.4L184.5,109L176,112L169,114.3L163.8,105.6L163.1,91.8L164.5,81.5Z"/>
</g></g>
<path d="M116.5,7.5v3.5M116.5,378.5v-2.5M163.5,7.5v3.5M163.5,378.5v-2.5M210.5,7.5v3.5M210.5,378.5v-2.5M258.5,7.5v3.5M258.5,378.5v-2.5M305.5,7.5v3.5M305.5,378.5v-2.5M352.5,7.5v3.5M352.5,378.5v-2.5M399.5,7.5v3.5M399.5,378.5v-2.5M446.5,7.5v3.5M446.5,378.5v-2.5M494.5,7.5v3.5M494.5,378.5v-2.5M67.5,14.5h3.5M67.5,66.5h3.5M67.5,118.5h3.5M67.5,170.5h3.5M67.5,222.5h3.5M67.5,274.5h3.5M67.5,325.5h3.5M541.5,14.5h-3.5" stroke="#222" stroke-opacity="0.6" stroke-width="1" fill="none"/>
<path d="M67,7.5H542" stroke="#2e2e2e" stroke-width="1" fill="none"/>
<path d="M541.5,7V378" stroke="#401818" stroke-opacity="0.55" stroke-width="1" fill="none"/>
<path d="M67.5,7V378.5" stroke="#3a3035" stroke-width="1.3" fill="none"/>
<path d="M67,377.5H542" stroke="#000060" stroke-width="1" fill="none"/>
<g font-family="'Liberation Sans', Arial, sans-serif">
<text x="233" y="109.7" transform="rotate(-9 233 105.3)" text-anchor="middle" font-size="12.2" fill="#140808">0.34</text>
<text x="267.7" y="206.8" transform="rotate(-4 267.7 202.4)" text-anchor="middle" font-size="12.2" fill="#140808">0.32</text>
<text x="286.7" y="238.7" transform="rotate(-5 286.7 234.3)" text-anchor="middle" font-size="12.2" fill="#140808">0.3</text>
<text x="313.7" y="294.6" transform="rotate(-6 313.7 290.2)" text-anchor="middle" font-size="12.2" fill="#140808">0.25</text>
<text x="338" y="328.6" transform="rotate(-7 338 324.2)" text-anchor="middle" font-size="12.2" fill="#140808">0.2</text>
<text x="350.8" y="350.9" transform="rotate(-5 350.8 346.5)" text-anchor="middle" font-size="12.2" fill="#140808">0.15</text>
<text x="383.2" y="364.6" transform="rotate(-4 383.2 360.2)" text-anchor="middle" font-size="12.2" fill="#140808">0.1</text>
</g>
<g font-family="'Liberation Sans', Arial, sans-serif" font-style="italic" font-size="13.8" fill="#1e2238" stroke="#1e2238" stroke-width="0.2">
<text x="48.2" y="19.6">1</text>
<text x="35.5" y="71.2">0.86</text>
<text x="33.6" y="120.2">0.73</text>
<text x="37.8" y="173.8">0.6</text>
<text x="33.6" y="227.7">0.47</text>
<text x="32.3" y="275.5">0.26</text>
<text x="33.5" y="330.1">0.13</text>
<text x="42" y="380">0</text>
<text x="56.7" y="402.3">0.16</text>
<text x="150.6" y="401.6">0.33</text>
<text x="248.6" y="401.3">0.5</text>
<text x="336.5" y="399.3">0.66</text>
<text x="425.6" y="400.5">0.83</text>
<text x="532.2" y="401.8">1</text>
</g>
<g font-family="'Liberation Sans', Arial, sans-serif" font-size="14.6" fill="#3c3c3c">
<text x="264" y="424.4">Velocity [rpm]</text>
<text transform="translate(15.4 211.2) rotate(-90)">Torque [Nm]</text>
</g>
</svg>
</body></html>
